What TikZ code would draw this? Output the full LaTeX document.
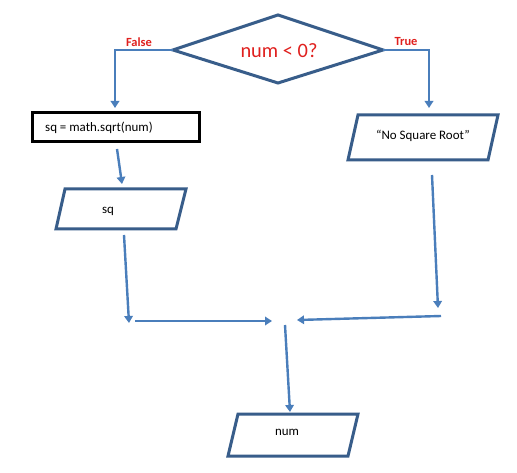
\documentclass[tikz,border=0pt]{standalone}
\usepackage{fontspec}
\setmainfont{Carlito}
\usetikzlibrary{arrows.meta}
\definecolor{arrowblue}{HTML}{4A7EBB}
\definecolor{shapeblue}{HTML}{385D8A}
\definecolor{labelred}{HTML}{E0201E}
\begin{document}
\begin{tikzpicture}[x=1bp,y=-1bp,
  conn/.style={arrowblue,line width=2.4bp,line join=miter,-{Triangle[length=7bp,width=8.5bp]}},
  outline/.style={shapeblue,line width=3bp,line join=miter},
  txt/.style={font=\fontsize{13}{15}\selectfont,inner sep=0pt,text=black},
  lbl/.style={font=\fontsize{12.5}{14}\selectfont\bfseries,inner sep=0pt,text=labelred},
  rectbox/.style={draw=black,line width=3bp,minimum width=166bp,minimum height=29bp,inner sep=0pt}]
\useasboundingbox (0,0) rectangle (517,473);
\fill[white] (0,0) rectangle (517,473);

% decision diamond
\draw[outline] (278,15) -- (383,50) -- (278,83) -- (173,50) -- cycle;
\node[font=\fontsize{20.5}{24}\selectfont,text=labelred,inner sep=0pt] (cond) at (279,51) {num < 0?};
\node[lbl] (false) at (139,42) {False};
\node[lbl] (true) at (406,42) {True};

% process box
\node[rectbox] (calc) at (116,127.5) {};
\node[txt,anchor=west] (calct) at (45,128) {sq = math.sqrt(num)};

% output sq
\draw[outline] (65,189) -- (186,189) -- (176,229) -- (56,229) -- cycle;
\node[txt] (sq) at (108,211) {sq};

% output No Square Root
\draw[outline] (358,115) -- (498,115) -- (488,160) -- (348,160) -- cycle;
\node[txt] (nsr) at (423,136) {“No Square Root”};

% output num
\draw[outline] (238,414) -- (358,414) -- (348,456) -- (228,456) -- cycle;
\node[txt] (num) at (287,432) {num};

% connector coordinates
\coordinate (dL) at (173,50);
\coordinate (fc) at (115,50);
\coordinate (fa) at (115,108);
\coordinate (dR) at (383,50);
\coordinate (tc) at (429,50);
\coordinate (ta) at (429,108);
\coordinate (c1s) at (117,149);
\coordinate (c1e) at (122,184);
\coordinate (s1s) at (124,235);
\coordinate (s1e) at (129,323);
\coordinate (h1s) at (135,321);
\coordinate (h1e) at (272,321);
\coordinate (r1s) at (432,175);
\coordinate (r1e) at (438,308);
\coordinate (h2s) at (441,316);
\coordinate (h2e) at (297,320);
\coordinate (ds) at (285,325);
\coordinate (de) at (290,412);

\draw[conn] (dL) -- (fc) -- (fa);
\draw[conn] (dR) -- (tc) -- (ta);
\draw[conn] (c1s) -- (c1e);
\draw[conn] (s1s) -- (s1e);
\draw[conn] (h1s) -- (h1e);
\draw[conn] (r1s) -- (r1e);
\draw[conn] (h2s) -- (h2e);
\draw[conn] (ds) -- (de);
\end{tikzpicture}
\end{document}
